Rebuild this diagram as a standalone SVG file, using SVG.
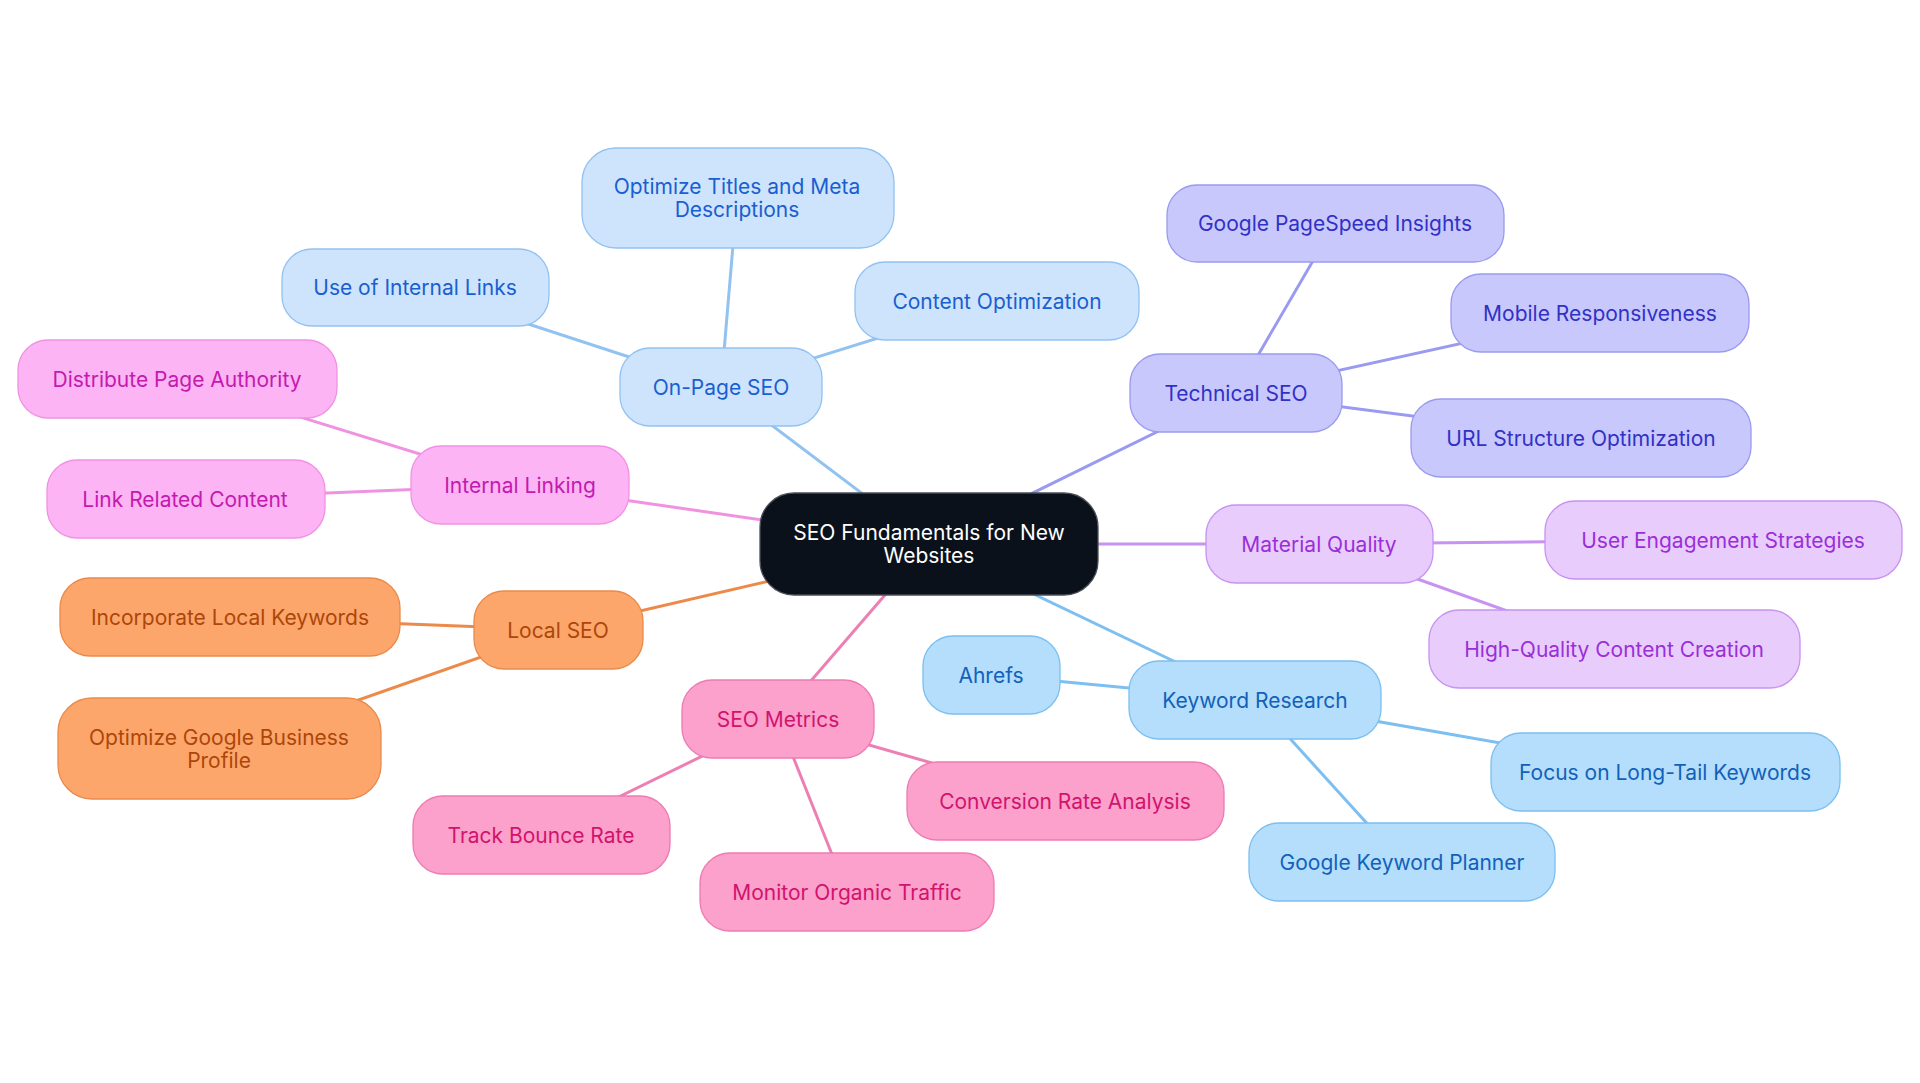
<svg xmlns="http://www.w3.org/2000/svg" width="1920" height="1083" viewBox="0 0 1920 1083">
<style>
text{font-family:Inter,"Noto Sans","Liberation Sans",sans-serif;font-size:21px;text-anchor:middle;dominant-baseline:central}
.c line{stroke-width:3;stroke-linecap:round}
.n rect{stroke-width:1.3}
.root rect{fill:#0b111b;stroke:#4a4f57}
.root text{fill:#ffffff}
.op rect{fill:#cde4fc;stroke:#92c2f2}.op text{fill:#1a5fcf}
.te rect{fill:#c8c8fc;stroke:#9a9af0}.te text{fill:#3131c6}
.ma rect{fill:#e8ccfc;stroke:#c892f0}.ma text{fill:#9a2fd8}
.kw rect{fill:#b4defc;stroke:#7cbff0}.kw text{fill:#1261b8}
.me rect{fill:#fca0cc;stroke:#ec7cb2}.me text{fill:#d0146c}
.lo rect{fill:#fca66c;stroke:#ea8a4a}.lo text{fill:#ad4609}
.il rect{fill:#fcb4f4;stroke:#f092e4}.il text{fill:#c31aaf}
</style>
<rect width="1920" height="1083" fill="#ffffff"/>
<g id="connectors" class="c">
<line x1="929" y1="544" x2="721" y2="387" stroke="#92c2f0"/>
<line x1="929" y1="544" x2="1236" y2="393" stroke="#9a9af0"/>
<line x1="929" y1="544" x2="1319" y2="544" stroke="#c892f0"/>
<line x1="929" y1="544" x2="1255" y2="700" stroke="#7cbff0"/>
<line x1="929" y1="544" x2="778" y2="719" stroke="#ec80b4"/>
<line x1="929" y1="544" x2="558" y2="630" stroke="#ec8a4a"/>
<line x1="929" y1="544" x2="520" y2="485" stroke="#f092e2"/>
<line x1="721" y1="387" x2="737" y2="198" stroke="#92c2f0"/>
<line x1="721" y1="387" x2="415" y2="287" stroke="#92c2f0"/>
<line x1="721" y1="387" x2="997" y2="301" stroke="#92c2f0"/>
<line x1="1236" y1="393" x2="1335" y2="223" stroke="#9a9af0"/>
<line x1="1236" y1="393" x2="1600" y2="313" stroke="#9a9af0"/>
<line x1="1236" y1="393" x2="1581" y2="438" stroke="#9a9af0"/>
<line x1="1319" y1="544" x2="1723" y2="540" stroke="#c892f0"/>
<line x1="1319" y1="544" x2="1614" y2="649" stroke="#c892f0"/>
<line x1="1255" y1="700" x2="991" y2="675" stroke="#7cbff0"/>
<line x1="1255" y1="700" x2="1665" y2="772" stroke="#7cbff0"/>
<line x1="1255" y1="700" x2="1402" y2="862" stroke="#7cbff0"/>
<line x1="778" y1="719" x2="1065" y2="801" stroke="#ec80b4"/>
<line x1="778" y1="719" x2="541" y2="835" stroke="#ec80b4"/>
<line x1="778" y1="719" x2="847" y2="892" stroke="#ec80b4"/>
<line x1="558" y1="630" x2="230" y2="617" stroke="#ec8a4a"/>
<line x1="558" y1="630" x2="219" y2="749" stroke="#ec8a4a"/>
<line x1="520" y1="485" x2="177" y2="379" stroke="#f092e2"/>
<line x1="520" y1="485" x2="185" y2="499" stroke="#f092e2"/>
</g>
<g id="root" class="n root"><rect x="760" y="493" width="338" height="102" rx="34"/><text x="929" y="532">SEO Fundamentals for New</text><text x="929" y="555">Websites</text></g>
<g id="onpage" class="n op"><rect x="620" y="348" width="202" height="78" rx="30"/><text x="721" y="387">On-Page SEO</text></g>
<g id="titles" class="n op"><rect x="582" y="148" width="312" height="100" rx="34"/><text x="737" y="186">Optimize Titles and Meta</text><text x="737" y="209">Descriptions</text></g>
<g id="uselinks" class="n op"><rect x="282" y="249" width="267" height="77" rx="30"/><text x="415" y="287">Use of Internal Links</text></g>
<g id="content" class="n op"><rect x="855" y="262" width="284" height="78" rx="30"/><text x="997" y="301">Content Optimization</text></g>
<g id="technical" class="n te"><rect x="1130" y="354" width="212" height="78" rx="30"/><text x="1236" y="393">Technical SEO</text></g>
<g id="pagespeed" class="n te"><rect x="1167" y="185" width="337" height="77" rx="30"/><text x="1335" y="223">Google PageSpeed Insights</text></g>
<g id="mobile" class="n te"><rect x="1451" y="274" width="298" height="78" rx="30"/><text x="1600" y="313">Mobile Responsiveness</text></g>
<g id="url" class="n te"><rect x="1411" y="399" width="340" height="78" rx="30"/><text x="1581" y="438">URL Structure Optimization</text></g>
<g id="material" class="n ma"><rect x="1206" y="505" width="227" height="78" rx="30"/><text x="1319" y="544">Material Quality</text></g>
<g id="engagement" class="n ma"><rect x="1545" y="501" width="357" height="78" rx="30"/><text x="1723" y="540">User Engagement Strategies</text></g>
<g id="highquality" class="n ma"><rect x="1429" y="610" width="371" height="78" rx="30"/><text x="1614" y="649">High-Quality Content Creation</text></g>
<g id="keyword" class="n kw"><rect x="1129" y="661" width="252" height="78" rx="30"/><text x="1255" y="700">Keyword Research</text></g>
<g id="ahrefs" class="n kw"><rect x="923" y="636" width="137" height="78" rx="30"/><text x="991" y="675">Ahrefs</text></g>
<g id="longtail" class="n kw"><rect x="1491" y="733" width="349" height="78" rx="30"/><text x="1665" y="772">Focus on Long-Tail Keywords</text></g>
<g id="planner" class="n kw"><rect x="1249" y="823" width="306" height="78" rx="30"/><text x="1402" y="862">Google Keyword Planner</text></g>
<g id="metrics" class="n me"><rect x="682" y="680" width="192" height="78" rx="30"/><text x="778" y="719">SEO Metrics</text></g>
<g id="conversion" class="n me"><rect x="907" y="762" width="317" height="78" rx="30"/><text x="1065" y="801">Conversion Rate Analysis</text></g>
<g id="bounce" class="n me"><rect x="413" y="796" width="257" height="78" rx="30"/><text x="541" y="835">Track Bounce Rate</text></g>
<g id="traffic" class="n me"><rect x="700" y="853" width="294" height="78" rx="30"/><text x="847" y="892">Monitor Organic Traffic</text></g>
<g id="local" class="n lo"><rect x="474" y="591" width="169" height="78" rx="30"/><text x="558" y="630">Local SEO</text></g>
<g id="localkw" class="n lo"><rect x="60" y="578" width="340" height="78" rx="30"/><text x="230" y="617">Incorporate Local Keywords</text></g>
<g id="gbp" class="n lo"><rect x="58" y="698" width="323" height="101" rx="34"/><text x="219" y="737">Optimize Google Business</text><text x="219" y="760">Profile</text></g>
<g id="internal" class="n il"><rect x="411" y="446" width="218" height="78" rx="30"/><text x="520" y="485">Internal Linking</text></g>
<g id="authority" class="n il"><rect x="18" y="340" width="319" height="78" rx="30"/><text x="177" y="379">Distribute Page Authority</text></g>
<g id="related" class="n il"><rect x="47" y="460" width="278" height="78" rx="30"/><text x="185" y="499">Link Related Content</text></g>
</svg>
